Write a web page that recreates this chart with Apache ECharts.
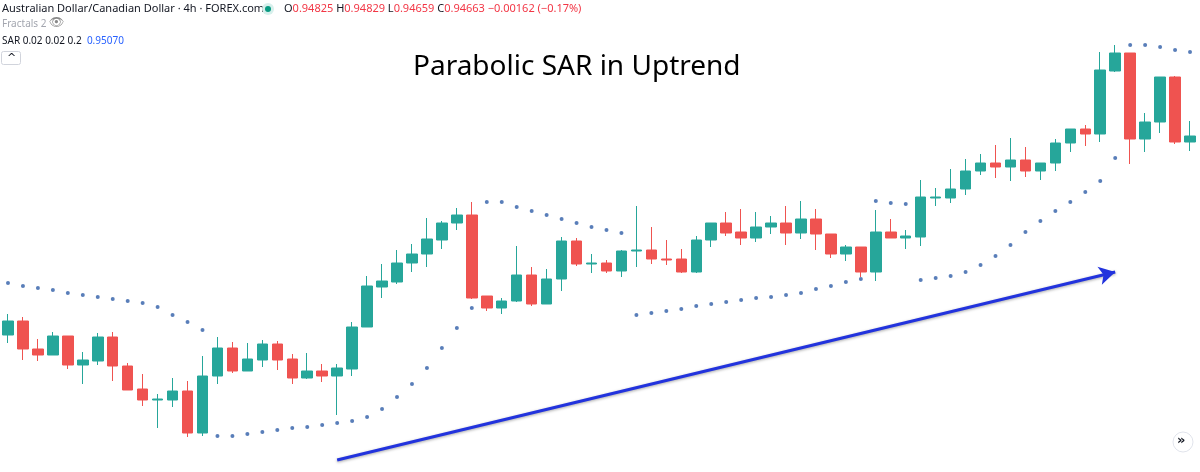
<!DOCTYPE html>
<html><head><meta charset="utf-8">
<script src="https://cdn.jsdelivr.net/npm/echarts@6/dist/echarts.min.js"></script>
<style>html,body{margin:0;padding:0;background:#fff}#c{width:1200px;height:472px}</style>
</head><body><div id="c"></div>
<script>
// values, in chart "level" units (pixel row from top, converted below)
const opens  = [335,321,349,355,336,365,361,337,366,389,400,400,391,433,376,348,371,360,344,359,378,371,376,369,327,287,282,263,254,240,223,215,296,308,301,275,304,279,241,264,263,271,251,250,259,259,272,240,223,232,238,227,223,233,219,234,254,247,272,232,238,237,198,198,189,171,163,167,160,171,163,143,129,134,71,53,139,122,77,142];
const closes = [321,349,355,336,365,360,337,366,390,400,399,391,433,376,348,371,359,344,360,378,371,376,368,327,286,281,263,254,239,223,215,298,308,301,275,304,279,241,264,263,271,251,250,259,260,272,240,223,233,238,227,223,233,219,234,254,247,272,232,238,236,197,197,189,171,163,167,160,171,163,143,129,134,70,53,139,122,77,142,136];
const highs  = [314,317,339,332,336,352,333,332,363,374,394,378,381,356,337,342,343,340,341,354,353,364,364,322,276,264,250,244,218,221,208,202,296,298,246,267,269,237,238,254,260,250,206,227,240,249,236,223,212,209,212,216,206,201,209,234,245,247,210,219,230,180,188,169,159,154,145,138,147,163,139,129,125,52,45,53,113,77,76,121];
const lows   = [343,360,361,355,369,384,365,381,390,406,428,407,437,436,384,373,371,367,370,384,379,382,415,376,327,298,284,272,267,249,230,299,311,314,302,306,304,291,266,273,273,277,267,264,265,273,273,247,236,245,242,234,245,239,250,258,261,277,281,238,249,246,206,203,195,175,178,181,177,180,171,152,146,142,72,164,152,133,144,151];
const sar    = [283,286,288,290,293,295,297,299,301,303,307,315,322,330,436,436,434,432,430,428,427,425,423,421,417,409,397,384,368,348,328,308,202,202,207,211,215,219,223,227,230,233,315,313,311,309,306,304,302,300,298,297,295,293,289,286,282,279,201,203,204,280,278,276,272,265,256,245,232,221,211,202,192,181,158,45,45,47,50,52];
const categories = opens.map((_, i) => 'c' + (i + 1));
const H = 472;
const v = y => H - y;
const candles = opens.map((o, i) => [v(o), v(closes[i]), v(lows[i]), v(highs[i])]);
const chart = echarts.init(document.getElementById('c'));
const gray = '#131722', red = '#f23645';
chart.setOption({
  animation: false,
  grid: {left: 0.5, right: 2.5, top: 0, bottom: 0},
  xAxis: {type: 'category', data: categories, show: false, boundaryGap: true},
  yAxis: {type: 'value', min: 0, max: H, show: false},
  series: [
    {type: 'candlestick', data: candles, barWidth: 11,
     itemStyle: {color: '#26a69a', color0: '#ef5350', borderColor: '#26a69a', borderColor0: '#ef5350', borderWidth: 1},
     markLine: {silent: true, symbol: ['none', 'arrow'], symbolSize: [14, 16], label: {show: false},
       lineStyle: {color: '#2233dd', width: 3, type: 'solid', shadowColor: 'rgba(0,0,0,0.35)', shadowBlur: 3, shadowOffsetY: 1},
       data: [[{coord: ['c23', v(460)]}, {coord: ['c75', v(272)]}]]}},
    {type: 'scatter', data: sar.map(v), symbolSize: 4, itemStyle: {color: '#2f5ea8'}}
  ],
  graphic: [
    {type: 'text', left: 413, top: 53, style: {text: 'Parabolic SAR in Uptrend', font: '28px "Noto Sans"', fill: '#000'}},
    {type: 'text', left: 2, top: 3, style: {text: 'Australian Dollar/Canadian Dollar · 4h · FOREX.com', font: '11px "Noto Sans"', fill: gray}},
    {type: 'circle', shape: {cx: 268, cy: 9, r: 6}, style: {fill: '#d7f0ec'}},
    {type: 'circle', shape: {cx: 268, cy: 9, r: 3}, style: {fill: '#089981'}},
    {type: 'text', left: 284, top: 3, style: {rich: {l: {font: '11px "Noto Sans"', fill: gray}, n: {font: '11px "Noto Sans"', fill: red}},
      text: '{l|O}{n|0.94825 }{l|H}{n|0.94829 }{l|L}{n|0.94659 }{l|C}{n|0.94663 −0.00162 (−0.17%)}'}},
    {type: 'text', left: 2, top: 19, style: {text: 'Fractals 2', font: '10px "Noto Sans"', fill: '#a3a6af'}},
    {type: 'text', left: 49, top: 17, style: {text: '👁', font: '12px "DejaVu Sans"', fill: '#888'}},
    {type: 'text', left: 2, top: 36, style: {rich: {l: {font: '10px "Noto Sans"', fill: gray}, b: {font: '10px "Noto Sans"', fill: '#2962ff'}},
      text: '{l|SAR 0.02 0.02 0.2  }{b|0.95070}'}},
    {type: 'rect', shape: {x: 1.5, y: 51.5, width: 19, height: 13, r: 2}, style: {fill: '#fff', stroke: '#d1d4dc'}},
    {type: 'text', left: 7, top: 53, style: {text: '^', font: '11px "DejaVu Sans"', fill: gray}},
    {type: 'circle', shape: {cx: 1183, cy: 442, r: 10}, style: {fill: '#fff', stroke: '#e0e3eb'}},
    {type: 'text', left: 1177, top: 434, style: {text: '»', font: 'bold 13px "DejaVu Sans"', fill: gray}}
  ]
});
</script></body></html>
